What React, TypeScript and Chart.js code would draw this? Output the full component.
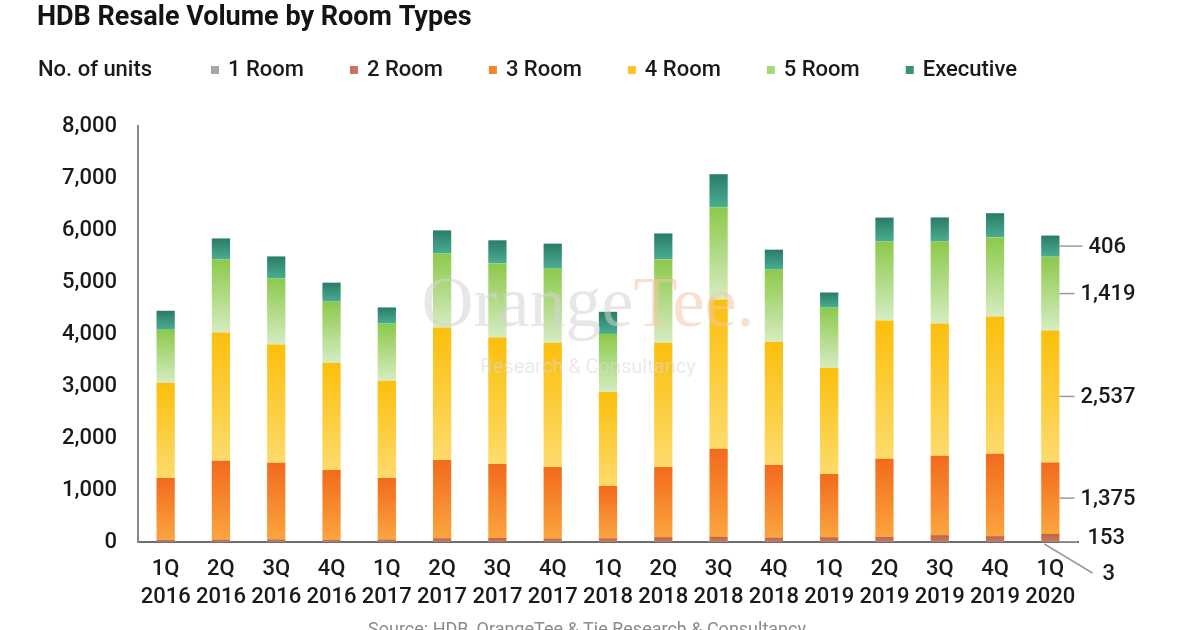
import React, { useEffect, useRef } from "react";
import { Chart, registerables } from "chart.js";

Chart.register(...registerables);

const titleText = "HDB Resale Volume by Room Types";
const unitsLabel = "No. of units";
const sourceText = "Source: HDB, OrangeTee & Tie Research & Consultancy";

const quarters = ["1Q", "2Q", "3Q", "4Q", "1Q", "2Q", "3Q", "4Q", "1Q", "2Q", "3Q", "4Q", "1Q", "2Q", "3Q", "4Q", "1Q"];
const years = ["2016", "2016", "2016", "2016", "2017", "2017", "2017", "2017", "2018", "2018", "2018", "2018", "2019", "2019", "2019", "2019", "2020"];

const seriesLabels = ["1 Room", "2 Room", "3 Room", "4 Room", "5 Room", "Executive"];

const room1 = [2, 3, 2, 2, 1, 3, 2, 3, 2, 4, 3, 2, 3, 4, 2, 3, 3];
const room2 = [40, 45, 50, 45, 50, 70, 75, 65, 70, 90, 95, 85, 90, 100, 130, 110, 153];
const room3 = [1190, 1515, 1470, 1340, 1180, 1505, 1425, 1375, 1005, 1350, 1695, 1395, 1215, 1495, 1525, 1585, 1375];
const room4 = [1830, 2465, 2275, 2060, 1870, 2545, 2430, 2390, 1810, 2390, 2870, 2370, 2045, 2660, 2545, 2640, 2537];
const room5 = [1020, 1405, 1270, 1175, 1100, 1425, 1425, 1425, 1115, 1600, 1775, 1385, 1155, 1520, 1580, 1520, 1419];
const executive = [365, 405, 425, 365, 310, 445, 445, 480, 425, 500, 635, 385, 290, 460, 460, 465, 406];

const yMax = 8000;
const yStep = 1000;

const allSeries = [room1, room2, room3, room4, room5, executive];

// [top colour, bottom colour] per series
const seriesColors: [string, string][] = [
  ["#9a9a9a", "#a8a8a8"],
  ["#bf6448", "#c97a5c"],
  ["#f26a1c", "#fba53e"],
  ["#fbbf0c", "#fddb6c"],
  ["#8cc94a", "#d6ecc2"],
  ["#2a7c68", "#4aad92"],
];
const legendColors = ["#a6a6a6", "#c87560", "#f5862a", "#f9c22e", "#a8d67a", "#3a8f7a"];

const FONT = "Roboto, 'Noto Sans', sans-serif";

function makeBg(dsIndex: number) {
  return (ctx: any) => {
    const [top, bottom] = seriesColors[dsIndex];
    const chart = ctx.chart;
    const ys = chart.scales && chart.scales.y;
    if (!ys || ctx.type !== "data") return top;
    const i = ctx.dataIndex;
    let base = 0;
    for (let k = 0; k < dsIndex; k++) base += allSeries[k][i];
    const v = allSeries[dsIndex][i];
    const y0 = ys.getPixelForValue(base);
    const y1 = ys.getPixelForValue(base + v);
    if (!isFinite(y0) || !isFinite(y1) || y0 === y1) return top;
    const g = chart.ctx.createLinearGradient(0, y1, 0, y0);
    g.addColorStop(0, top);
    g.addColorStop(1, bottom);
    return g;
  };
}

const decorPlugin = {
  id: "decor",
  afterDatasetsDraw(chart: any) {
    const c = chart.ctx;
    const ys = chart.scales.y;
    // watermark
    c.save();
    c.globalAlpha = 0.55;
    c.textBaseline = "alphabetic";
    c.font = "72px 'Liberation Serif', serif";
    const w1 = c.measureText("Orange").width;
    const w2 = c.measureText("Tee.").width;
    const startX = 588 - (w1 + w2) / 2;
    c.fillStyle = "#d4d4d4";
    c.textAlign = "left";
    c.fillText("Orange", startX, 326);
    c.fillStyle = "#f4c7a6";
    c.fillText("Tee.", startX + w1, 326);
    c.font = `20px ${FONT}`;
    c.fillStyle = "#d8d8d8";
    c.textAlign = "center";
    c.textBaseline = "middle";
    c.fillText("Research & Consultancy", 588, 368);
    c.restore();

    // annotations for last bar
    const last = quarters.length - 1;
    const meta = chart.getDatasetMeta(5);
    const bar: any = meta.data[last];
    if (!bar) return;
    const barRight = bar.x + bar.width / 2;
    c.save();
    c.strokeStyle = "#9a9a9a";
    c.lineWidth = 1.5;
    c.fillStyle = "#1a1a1a";
    c.font = `500 22px ${FONT}`;
    c.textBaseline = "middle";
    c.textAlign = "left";
    let base = 0;
    const lineLen = [0, 18, 15, 15, 15, 23];
    allSeries.forEach((arr, i) => {
      const v = arr[last];
      const prev = base;
      const mid = base + v / 2;
      base += v;
      const label = v.toLocaleString("en-US");
      if (i === 0) {
        const y0 = ys.getPixelForValue(0) + 2;
        c.beginPath();
        c.moveTo(bar.x - 6, y0);
        c.lineTo(barRight + 33, y0 + 29);
        c.stroke();
        c.fillText(label, barRight + 43, y0 + 30);
      } else if (i === 1) {
        const y = ys.getPixelForValue(prev);
        c.beginPath();
        c.moveTo(barRight, y);
        c.lineTo(barRight + lineLen[i], y);
        c.stroke();
        c.fillText(label, barRight + 28, y - 3);
      } else {
        const y = ys.getPixelForValue(mid);
        c.beginPath();
        c.moveTo(barRight, y);
        c.lineTo(barRight + lineLen[i], y);
        c.stroke();
        c.fillText(label, barRight + lineLen[i] + 6, y + 1);
      }
    });
    c.restore();
  },
  afterDraw(chart: any) {
    const c = chart.ctx;
    c.save();
    // title
    c.fillStyle = "#141414";
    c.font = `bold 27px ${FONT}`;
    c.textBaseline = "middle";
    c.textAlign = "left";
    c.fillText(titleText, 37, 18);
    // legend row
    c.font = `500 22px ${FONT}`;
    c.fillStyle = "#1a1a1a";
    c.fillText(unitsLabel, 38, 70);
    let x = 211;
    seriesLabels.forEach((lab, i) => {
      c.fillStyle = legendColors[i];
      c.fillRect(x, 66, 8, 8);
      c.fillStyle = "#1a1a1a";
      c.fillText(lab, x + 17, 70);
      x = x + 17 + c.measureText(lab).width + 46;
    });
    // source
    c.font = `18px ${FONT}`;
    c.fillStyle = "#8a8a8a";
    c.textAlign = "center";
    c.textBaseline = "top";
    c.fillText(sourceText, 587, 621);
    c.restore();
  },
};

export default function App() {
  const ref = useRef<HTMLCanvasElement | null>(null);
  useEffect(() => {
    if (!ref.current) return;
    const labels = quarters.map((q, i) => [q, years[i]]);
    const chart = new Chart(ref.current, {
      type: "bar",
      data: {
        labels,
        datasets: allSeries.map((arr, i) => ({
          label: seriesLabels[i],
          data: arr,
          backgroundColor: makeBg(i),
          borderWidth: 0,
          barPercentage: 0.33,
          categoryPercentage: 1,
        })),
      },
      options: {
        animation: false,
        responsive: false,
        maintainAspectRatio: false,
        layout: { padding: { left: 0, right: 122, top: 126, bottom: 11 } },
        plugins: {
          legend: { display: false },
          title: { display: false },
          tooltip: { enabled: false },
        },
        scales: {
          x: {
            stacked: true,
            grid: { display: false, drawTicks: false },
            border: { display: true, color: "#6e6e6e", width: 2 },
            ticks: {
              color: "#1a1a1a",
              font: { family: FONT, size: 22, weight: "500", lineHeight: 1.25 },
              padding: 14,
              maxRotation: 0,
              autoSkip: false,
            },
            afterFit: (s: any) => {
              s.height = 77;
            },
          },
          y: {
            stacked: true,
            min: 0,
            max: yMax,
            grid: { display: false, drawTicks: false },
            border: { display: true, color: "#8a8a8a", width: 2 },
            ticks: {
              stepSize: yStep,
              color: "#1a1a1a",
              font: { family: FONT, size: 22, weight: "500" },
              padding: 21,
              callback: (v: any) => Number(v).toLocaleString("en-US"),
            },
            afterFit: (s: any) => {
              s.width = 138;
            },
          },
        },
      },
      plugins: [decorPlugin],
    });
    return () => chart.destroy();
  }, []);
  return (
    <div style={{ position: "fixed", left: 0, top: 0, width: 1200, height: 630, background: "#fff" }}>
      <canvas ref={ref} width={1200} height={630} style={{ width: 1200, height: 630, display: "block" }} />
    </div>
  );
}
